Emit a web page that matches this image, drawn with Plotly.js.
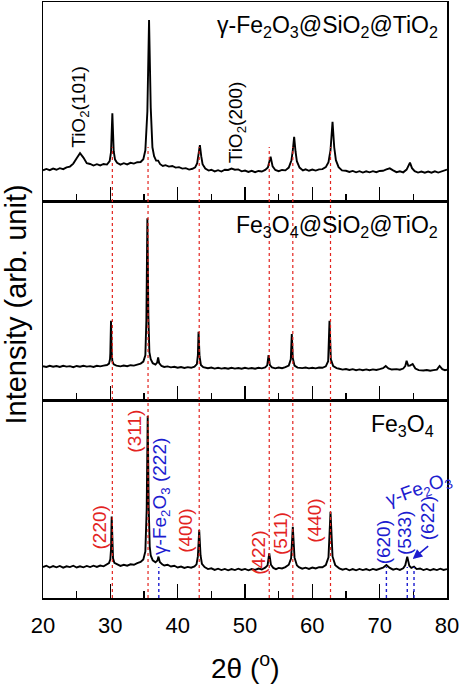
<!DOCTYPE html>
<html>
<head>
<meta charset="utf-8">
<script src="https://cdn.plot.ly/plotly-3.0.1.min.js"></script>
<style>
  html, body { margin: 0; padding: 0; background: #fff; }
  #chart { width: 460px; height: 685px; }
</style>
</head>
<body>
<div id="chart"></div>
<script>
// XRD patterns, intensity in arbitrary units (0-100 per panel)

// gamma-Fe2O3@SiO2@TiO2 (top panel)
const ttGamma = [20.0,20.5,21.0,21.5,22.0,22.5,23.0,23.5,24.0,24.5,25.0,25.5,26.0,26.5,27.0,27.5,28.0,28.5,29.0,29.5,29.9,30.1,30.3,30.5,30.7,31.0,31.5,32.0,32.5,33.0,33.5,34.0,34.5,34.9,35.2,35.5,35.75,36.0,36.25,36.5,36.8,37.1,37.4,37.8,38.2,38.7,39.2,39.7,40.2,40.7,41.2,41.7,42.2,42.6,42.9,43.1,43.3,43.5,43.7,44.1,44.6,45.0,45.5,46.0,46.5,47.0,47.5,48.0,48.5,49.0,49.5,50.0,50.5,51.0,51.5,52.0,52.5,53.0,53.4,53.8,54.1,54.5,55.0,55.5,56.0,56.5,56.9,57.1,57.3,57.5,57.7,58.1,58.6,59.0,59.5,60.0,60.5,61.0,61.5,62.0,62.4,62.7,63.0,63.25,63.5,63.9,64.4,65.0,65.5,66.0,66.5,67.0,67.5,68.0,68.5,69.0,69.5,70.0,70.5,71.0,71.5,72.0,72.5,73.0,73.5,74.0,74.3,74.5,74.8,75.2,75.7,76.2,76.7,77.2,77.7,78.2,78.7,79.2,79.6,80.0];
const intGamma = [15.4,16.1,15.5,16.3,15.7,16.5,16.0,16.9,17.3,18.8,21.5,24.0,21.8,19.0,18.6,17.8,18.5,17.9,18.6,18.3,20.0,24.5,44.1,25.0,20.8,19.2,18.3,19.0,18.4,19.2,18.8,19.5,19.6,21.0,25.5,45.0,91.0,47.0,27.0,22.5,20.3,20.3,18.5,17.6,18.0,17.3,17.6,16.8,17.0,16.3,16.5,15.8,16.2,16.9,19.0,23.0,28.1,22.5,18.5,16.3,15.3,15.7,14.9,15.5,14.8,15.7,15.6,16.3,15.7,15.9,14.9,15.3,14.6,15.2,14.5,15.1,14.8,15.6,16.8,22.3,17.4,15.6,15.0,15.6,15.4,16.8,20.5,25.5,32.3,25.0,20.0,16.8,15.4,15.9,15.2,15.8,15.3,15.9,16.0,17.0,19.5,25.5,39.8,27.0,20.5,17.0,15.4,15.2,14.6,15.1,14.4,15.0,14.3,14.9,14.4,15.0,14.5,15.1,15.2,15.9,16.4,15.4,14.5,14.9,14.4,15.8,17.8,19.3,16.5,15.0,14.3,14.8,14.2,14.8,14.2,14.9,14.3,15.0,15.4,15.8];

// Fe3O4@SiO2@TiO2 (middle panel)
const ttCoated = [20.0,20.5,21.0,21.5,22.0,22.5,23.0,23.5,24.0,24.5,25.0,25.5,26.0,26.5,27.0,27.5,28.0,28.5,29.0,29.5,29.8,29.95,30.0,30.1,30.2,30.3,30.5,30.9,31.5,32.0,32.5,33.0,33.5,34.0,34.5,34.9,35.2,35.35,35.5,35.65,35.8,36.0,36.3,36.7,36.95,37.1,37.25,37.6,38.0,38.5,39.0,39.5,40.0,40.5,41.0,41.5,42.0,42.5,42.85,43.0,43.1,43.25,43.45,43.8,44.5,45.0,45.5,46.0,46.5,47.0,47.5,48.0,48.5,49.0,49.5,50.0,50.5,51.0,51.5,52.0,52.5,53.0,53.3,53.5,53.7,54.0,54.5,55.0,55.5,56.0,56.5,56.8,56.95,57.1,57.35,57.8,58.5,59.0,59.5,60.0,60.5,61.0,61.5,62.0,62.35,62.55,62.75,63.1,63.6,64.0,64.5,65.0,65.5,66.0,66.5,67.0,67.5,68.0,68.5,69.0,69.5,70.0,70.5,70.9,71.3,71.8,72.5,73.0,73.5,73.8,74.0,74.25,74.5,74.9,75.3,75.8,76.5,77.0,77.5,78.0,78.5,78.9,79.3,79.7,80.0];
const intCoated = [17.0,16.6,17.2,16.7,17.1,16.6,17.2,16.8,17.0,16.5,17.1,16.7,17.2,16.8,17.0,16.6,17.2,16.9,17.3,17.6,18.3,20.5,23.5,39.8,24.0,19.5,17.9,17.3,16.9,17.3,17.0,17.5,17.3,17.8,18.3,19.3,22.5,40.0,91.3,42.0,24.0,20.5,18.5,17.8,18.8,21.4,18.6,17.1,16.6,16.9,16.4,16.7,16.2,16.6,16.1,16.5,16.2,16.8,18.0,22.5,34.3,22.0,17.6,16.5,16.0,16.3,15.8,16.2,15.8,16.1,15.7,16.2,15.8,16.1,15.7,16.2,15.8,16.1,15.7,16.2,15.9,16.4,17.4,22.6,17.5,16.4,15.9,16.3,16.0,16.5,17.3,20.5,33.2,21.0,17.3,16.3,16.0,16.3,15.9,16.2,15.9,16.3,16.2,16.9,19.5,39.8,20.5,17.0,16.0,15.7,15.3,15.6,15.1,15.5,15.0,15.4,15.0,15.4,15.0,15.4,15.1,15.5,16.0,17.1,15.9,15.3,15.5,15.2,15.8,17.0,19.7,17.2,17.3,18.1,15.8,15.0,14.8,15.1,14.7,15.0,15.3,17.1,15.5,15.0,15.2];

// Fe3O4 (bottom panel)
const ttBare = [20.0,20.5,21.0,21.5,22.0,22.5,23.0,23.5,24.0,24.5,25.0,25.5,26.0,26.5,27.0,27.5,28.0,28.5,29.0,29.5,29.8,30.0,30.1,30.2,30.3,30.4,30.6,31.0,31.5,32.0,32.5,33.0,33.5,34.0,34.5,34.9,35.2,35.4,35.55,35.7,35.85,36.0,36.3,36.7,37.0,37.15,37.35,37.7,38.0,38.5,39.0,39.5,40.0,40.5,41.0,41.5,42.0,42.5,42.8,43.0,43.2,43.4,43.6,44.0,44.5,45.0,45.5,46.0,46.5,47.0,47.5,48.0,48.5,49.0,49.5,50.0,50.5,51.0,51.5,52.0,52.5,53.0,53.35,53.6,53.85,54.2,54.6,55.0,55.5,56.0,56.5,56.85,57.1,57.35,57.7,58.0,58.5,59.0,59.5,60.0,60.5,61.0,61.5,62.0,62.4,62.7,63.0,63.4,64.0,64.5,65.0,65.5,66.0,66.5,67.0,67.5,68.0,68.5,69.0,69.5,70.0,70.5,71.0,71.5,72.0,72.5,73.0,73.5,73.8,74.1,74.4,74.7,75.1,75.5,76.0,76.5,77.0,77.5,78.0,78.5,79.0,79.5,80.0];
const intBare = [15.6,16.3,15.4,16.1,15.5,16.2,15.3,16.0,15.6,16.3,15.4,16.0,15.5,16.2,15.6,16.3,15.7,16.4,16.0,16.8,17.6,19.5,24.5,41.1,25.0,20.0,17.8,16.9,16.2,16.8,16.3,17.0,16.8,17.6,18.2,19.5,23.5,45.0,91.9,46.0,26.0,21.5,19.0,18.0,19.0,20.9,18.2,17.0,16.4,16.8,15.9,16.3,15.4,15.9,15.2,15.7,15.3,16.0,17.0,21.0,34.3,21.5,17.3,15.6,14.6,15.0,14.2,14.8,14.1,14.7,14.0,14.6,14.1,14.8,14.2,14.7,14.0,14.6,14.2,14.9,14.4,15.3,16.5,22.6,16.8,15.2,14.6,15.2,14.9,15.6,16.8,20.0,36.0,20.5,16.5,15.6,14.8,15.3,14.7,15.4,14.9,15.6,15.5,16.6,20.5,43.6,21.0,16.6,15.0,14.3,14.8,14.0,14.6,14.0,14.7,14.1,14.6,14.0,14.7,14.2,14.8,15.3,16.7,15.2,14.3,14.8,14.2,15.0,16.5,20.9,16.3,15.2,15.8,14.6,14.9,14.1,14.7,14.0,14.6,14.1,14.8,14.2,14.6];

// Reflection positions (2 theta, degrees)
const magnetiteRefs = [30.3, 35.6, 43.2, 53.6, 57.1, 62.7];
const maghemiteRefs = [37.2, 71.0, 74.1, 75.1];

const magnetiteHkl = ['(220)', '(311)', '(400)', '(422)', '(511)', '(440)'];
const maghemiteHkl = ['(222)', '(620)', '(533)', '(622)'];
const xTicks = [20, 30, 40, 50, 60, 70, 80];

// ---- layout geometry ----
const FONT = 'Arial, "Liberation Sans", sans-serif';
const RED = '#e3241f';
const BLUE = '#1c1ccf';
const dom = {
  bottom: [0, 0.3322],
  middle: [0.3322, 0.6661],
  top: [0.6661, 1]
};

function spectrum(x, y, xa, ya) {
  return {
    x: x, y: y, xaxis: xa, yaxis: ya, type: 'scatter', mode: 'lines',
    line: { color: '#000', width: 1.9 }, hoverinfo: 'skip', showlegend: false
  };
}

const data = [
  spectrum(ttBare, intBare, 'x', 'y'),
  spectrum(ttCoated, intCoated, 'x2', 'y2'),
  spectrum(ttGamma, intGamma, 'x3', 'y3')
];

function xAxis(anchor, labels) {
  const ax = {
    anchor: anchor, domain: [0, 1], range: [20, 80],
    tickmode: 'array', tickvals: xTicks, ticktext: xTicks.map(String),
    ticks: 'inside', ticklen: 14, tickwidth: 1.4, tickcolor: '#000',
    minor: { tickmode: 'linear', tick0: 25, dtick: 10, ticks: 'inside', ticklen: 7, tickwidth: 1.4, tickcolor: '#000' },
    showline: true, linewidth: 1.5, linecolor: '#000', mirror: true,
    showgrid: false, zeroline: false, showticklabels: labels,
    ticklabelstandoff: 7,
    tickfont: { family: FONT, size: 22, color: '#000' }
  };
  if (anchor !== 'y') ax.matches = 'x';
  return ax;
}
function yAxis(domain) {
  return {
    domain: domain, range: [0, 100], showticklabels: false, ticks: '',
    showline: true, linewidth: 1.5, linecolor: '#000', mirror: true,
    showgrid: false, zeroline: false
  };
}

const shapes = [];
magnetiteRefs.forEach(v => shapes.push({
  type: 'line', xref: 'x', yref: 'paper', x0: v, x1: v, y0: 0, y1: 0.7567,
  line: { color: RED, width: 1.2, dash: 'dot' }, layer: 'above'
}));
maghemiteRefs.forEach(v => shapes.push({
  type: 'line', xref: 'x', yref: 'paper', x0: v, x1: v, y0: 0, y1: 0.052,
  line: { color: BLUE, width: 1.4, dash: 'dot' }, layer: 'above'
}));

function label(text, x, y, yref, color, angle, size) {
  return {
    text: text, x: x, y: y, xref: 'x', yref: yref, showarrow: false,
    textangle: angle, xanchor: 'center', yanchor: 'middle',
    font: { family: FONT, size: size || 19, color: color }
  };
}
function sampleName(text, x, y, yref) {
  return {
    text: text, x: x, y: y, xref: 'x', yref: yref, showarrow: false,
    xanchor: 'right', yanchor: 'middle',
    font: { family: FONT, size: 23, color: '#000' }
  };
}

const annotations = [
  sampleName('γ-Fe<sub>2</sub>O<sub>3</sub>@SiO<sub>2</sub>@TiO<sub>2</sub>', 79.0, 87.5, 'y3'),
  sampleName('Fe<sub>3</sub>O<sub>4</sub>@SiO<sub>2</sub>@TiO<sub>2</sub>', 79.0, 87, 'y2'),
  sampleName('Fe<sub>3</sub>O<sub>4</sub>', 78.3, 87, 'y'),
  label('TiO<sub>2</sub>(101)', 25.45, 47.2, 'y3', '#000', -90),
  label('TiO<sub>2</sub>(200)', 48.76, 39.4, 'y3', '#000', -90),
  label(magnetiteHkl[0], 28.4, 35.4, 'y', RED, -90),
  label(magnetiteHkl[1], 33.6, 84.3, 'y', RED, -90),
  label(magnetiteHkl[2], 41.05, 33.8, 'y', RED, -90),
  label(magnetiteHkl[3], 51.9, 22.7, 'y', RED, -90),
  label(magnetiteHkl[4], 55.2, 32.3, 'y', RED, -90),
  label(magnetiteHkl[5], 60.35, 38.9, 'y', RED, -90),
  label('γ-Fe<sub>2</sub>O<sub>3</sub> ' + maghemiteHkl[0], 37.6, 51.3, 'y', BLUE, -90),
  label(maghemiteHkl[1], 70.7, 28.3, 'y', BLUE, -90),
  label(maghemiteHkl[2], 73.6, 32.8, 'y', BLUE, -90),
  label(maghemiteHkl[3], 77.06, 40.4, 'y', BLUE, -90),
  label('γ-Fe<sub>2</sub>O<sub>3</sub>', 75.9, 54.5, 'y', BLUE, -20),
  {
    text: '', x: 74.9, y: 19.7, xref: 'x', yref: 'y', showarrow: true,
    ax: 17, ay: -14, arrowhead: 2, arrowsize: 1.2, arrowwidth: 1.6, arrowcolor: BLUE, standoff: 0
  },
  {
    text: 'Intensity (arb. unit)', xref: 'paper', yref: 'paper', x: -0.068, y: 0.4916,
    showarrow: false, textangle: -90, xanchor: 'center', yanchor: 'middle',
    font: { family: FONT, size: 29, color: '#000' }
  },
  {
    text: '2θ (<sup>o</sup>)', xref: 'paper', yref: 'paper', x: 0.5, y: -0.114,
    showarrow: false, xanchor: 'center', yanchor: 'middle',
    font: { family: FONT, size: 28, color: '#000' }
  }
];

const layout = {
  width: 460, height: 685,
  margin: { l: 43, r: 13, t: 2, b: 87 },
  paper_bgcolor: '#fff', plot_bgcolor: '#fff',
  showlegend: false,
  xaxis: xAxis('y', true),
  xaxis2: xAxis('y2', false),
  xaxis3: xAxis('y3', false),
  yaxis: yAxis(dom.bottom),
  yaxis2: yAxis(dom.middle),
  yaxis3: yAxis(dom.top),
  shapes: shapes,
  annotations: annotations
};

Plotly.newPlot('chart', data, layout, { displayModeBar: false, staticPlot: true });
</script>
</body>
</html>
